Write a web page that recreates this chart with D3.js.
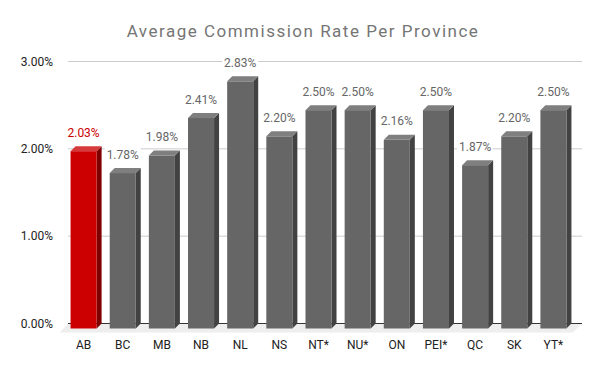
<!DOCTYPE html>
<html><head><meta charset="utf-8">
<script src="https://cdn.jsdelivr.net/npm/d3@7"></script>
<style>body{margin:0;background:#fff}svg{display:block;font-family:Roboto,Arial,sans-serif}</style>
</head><body><div id="chart"></div>
<script>
const categories = ["AB","BC","MB","NB","NL","NS","NT*","NU*","ON","PEI*","QC","SK","YT*"];
const values = [2.03,1.78,1.98,2.41,2.83,2.20,2.50,2.50,2.16,2.50,1.87,2.20,2.50];
const yTicks = [0,1,2,3];
const highlight = ["AB"];

const W=600,H=371, D=5;
const svg=d3.select("#chart").append("svg").attr("width",W).attr("height",H);
const x=d3.scaleBand().domain(categories).range([64,573]).paddingInner(0.335).paddingOuter(0.1675);
const y=d3.scaleLinear().domain([0,3]).range([323.5,61.5]);
const fmt=v=>v.toFixed(2)+"%";

svg.append("text").attr("x",303).attr("y",37).attr("text-anchor","middle")
  .attr("font-size",17).attr("letter-spacing",1.5).attr("fill","#757575").text("Average Commission Rate Per Province");

// floor
const gx0=68,gx1=582;
svg.append("polygon").attr("points",[[gx0,y(0)],[gx1,y(0)],[gx1-9,y(0)+9],[gx0-8,y(0)+9]].map(p=>p.join(",")).join(" "))
  .attr("fill","#eeeeee");

// grid
svg.selectAll("line.grid").data(yTicks).join("line").attr("class","grid")
  .attr("x1",gx0).attr("x2",gx1).attr("y1",d=>y(d)).attr("y2",d=>y(d))
  .attr("stroke",d=>d===0?"#333":"#cccccc").attr("stroke-width",1);
svg.selectAll("text.yt").data(yTicks).join("text").attr("class","yt")
  .attr("x",53).attr("y",d=>y(d)+4).attr("text-anchor","end").attr("font-size",12).attr("fill","#222")
  .text(d=>d.toFixed(2)+"%");

const data=categories.map((c,i)=>({c,v:values[i],hl:highlight.includes(c)}));
const g=svg.selectAll("g.bar").data(data).join("g").attr("class","bar");
const bw=x.bandwidth();
g.each(function(d){
  const s=d3.select(this);
  const x0=x(d.c), x1=x0+bw, yt=y(d.v)+D, yb=y(0)+D;
  const cf=d.hl?"#cc0000":"#666666", cs=d.hl?"#7f0000":"#424242", ct=d.hl?"#d63a3a":"#7f7f7f";
  s.append("polygon").attr("points",[[x1,yt],[x1+D,yt-D],[x1+D,yb-D],[x1,yb]].map(p=>p.join(",")).join(" ")).attr("fill",cs);
  s.append("polygon").attr("points",[[x0,yt],[x0+D,yt-D],[x1+D,yt-D],[x1,yt]].map(p=>p.join(",")).join(" ")).attr("fill",ct);
  s.append("rect").attr("x",x0).attr("y",yt).attr("width",bw).attr("height",yb-yt).attr("fill",cf);
});

// labels
const lab=svg.selectAll("g.lab").data(data).join("g").attr("class","lab");
lab.append("rect").attr("x",d=>x(d.c)+bw/2-18).attr("y",d=>y(d.v)-20).attr("width",36).attr("height",14).attr("fill","#fff");
lab.append("text").attr("x",d=>x(d.c)+bw/2).attr("y",d=>y(d.v)-9.5).attr("text-anchor","middle")
  .attr("font-size",12).attr("fill",d=>d.hl?"#cc0000":"#666666").text(d=>fmt(d.v));

svg.selectAll("text.xt").data(categories).join("text").attr("class","xt")
  .attr("x",d=>x(d)+bw/2).attr("y",349).attr("text-anchor","middle").attr("font-size",12).attr("fill","#222").text(d=>d);
</script></body></html>
